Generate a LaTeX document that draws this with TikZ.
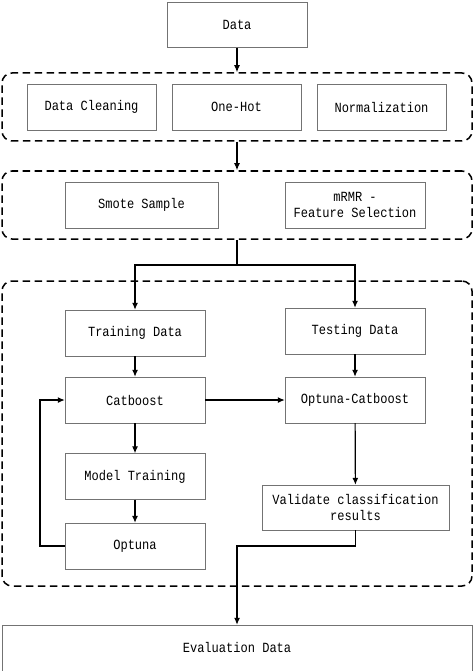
\documentclass[tikz,border=0pt]{standalone}
\usepackage{fontspec}
\setmainfont[FakeStretch=0.86]{Liberation Mono}
\usetikzlibrary{arrows.meta}
\definecolor{boxgray}{gray}{0.45}
\tikzstyle{stepbox}=[draw=boxgray,thin,align=center,minimum height=46pt,inner sep=0pt]
\tikzstyle{group}=[draw,line width=1.5pt,dash pattern=on 7.5pt off 4.5pt,rounded corners=10pt,minimum width=470pt]

\begin{document}
\begin{tikzpicture}[x=1pt,y=-1pt,>={Latex[length=7pt,width=6pt]},font=\fontsize{14}{16.5}\selectfont]
\useasboundingbox (0,0) rectangle (474,671);
\tikzstyle{flow}=[->,line width=1.2pt]
  % dashed groups
  \node[group,minimum height=68pt] (prep) at (237,107) {};
  \node[group,minimum height=68pt] (samp) at (237,205) {};
  \node[group,minimum height=305pt] (model) at (237,433.5) {};
  % boxes
  \node[stepbox,minimum width=140pt,minimum height=45pt] (data) at (237,25) {Data};
  \foreach \place/\name/\text in {{(91.5,107)/clean/Data Cleaning},
                                  {(236.5,107)/onehot/One-Hot},
                                  {(381.5,107)/norm/Normalization}}
    \node[stepbox,minimum width=129pt] (\name) at \place {\text};
  \node[stepbox,minimum width=153pt] (smote) at (141.5,205) {Smote Sample};
  \node[stepbox,minimum width=140pt] (mrmr) at (355,205) {mRMR -\\Feature Selection};
  \foreach \place/\name/\text in {{(135,333)/train/Training Data},
                                  {(355,331)/test/Testing Data},
                                  {(135,400)/cat/Catboost},
                                  {(355,400)/optcat/Optuna-Catboost},
                                  {(135,476.5)/mtrain/Model Training},
                                  {(135,546)/optuna/Optuna}}
    \node[stepbox,minimum width=140pt] (\name) at \place {\text};
  \node[stepbox,minimum width=187pt,minimum height=45pt] (valid) at (355.5,507.5) {Validate classification\\results};
  \node[stepbox,minimum width=470pt,minimum height=62pt] (eval) at (237,656) {};
  \node (evaltext) at (237,647) {Evaluation Data};
  % connectors
  \coordinate (split) at (237,265);
  \coordinate (back) at (40,546);
  \coordinate (join) at (355.5,546);
  \draw[flow] (data) -- (prep);
  \draw[flow] (prep) -- (samp);
  \draw[line width=1.2pt] (samp) -- (split);
  \draw[flow] (split) -| (train);
  \draw[flow] (split) -| (test);
  \foreach \source/\dest in {train/cat,test/optcat,cat/optcat,cat/mtrain,mtrain/optuna,optcat/valid}
    \draw[flow] (\source) -- (\dest);
  \draw[flow] (optuna.west) -- (back) |- (cat.west);
  \draw[flow] (valid) -- (join) -| (eval.north);
\end{tikzpicture}
\end{document}
